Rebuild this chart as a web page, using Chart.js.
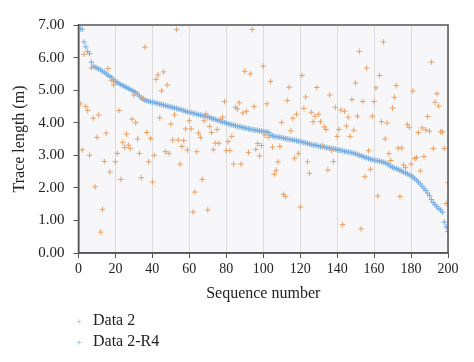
<!DOCTYPE html>
<html>
<head>
<meta charset="utf-8">
<script src="https://cdn.jsdelivr.net/npm/chart.js@4"></script>
<style>
  body { margin: 0; background: #fff; }
  #wrap { position: relative; width: 474px; height: 362px; }
  #legend { position: absolute; left: 69px; top: 309px; font-family: 'Liberation Serif', 'DejaVu Serif', serif; font-size: 16px; color: #222; }
  #legend div { height: 21px; line-height: 21px; white-space: nowrap; }
  #legend span.mk { display: inline-block; width: 20px; text-align: center; font-size: 11px; }
</style>
</head>
<body>
<div id="wrap">
  <canvas id="chart" width="474" height="362"></canvas>
  <div id="legend"></div>
</div>
<script>
// Sequence number 1..200
const sequence = [];
for (let i = 1; i <= 200; i++) sequence.push(i);

// Data 2 (raw trace lengths, m)
const data2 = [
  4.58, 3.17, 6.10, 4.50, 4.37, 3.00, 5.68, 4.14, 2.03, 3.55,
  4.24, 0.64, 1.34, 2.81, 3.68, 5.66, 2.49, 5.30, 5.16, 2.80,
  3.06, 4.37, 2.26, 3.40, 3.24, 3.65, 3.31, 3.21, 4.11, 4.85,
  4.00, 3.50, 3.06, 2.31, 4.75, 6.32, 3.70, 2.80, 3.52, 2.18,
  3.00, 5.33, 5.47, 4.15, 4.98, 5.56, 3.11, 5.16, 3.06, 3.96,
  3.47, 4.24, 6.86, 3.47, 2.73, 3.27, 3.45, 3.81, 3.16, 4.06,
  3.81, 1.26, 1.87, 3.11, 3.68, 3.55, 2.26, 4.06, 4.27, 1.32,
  3.88, 3.70, 3.17, 3.37, 3.79, 3.37, 4.10, 4.17, 4.65, 3.14,
  3.42, 3.14, 3.58, 2.73, 4.47, 4.42, 4.61, 2.73, 4.30, 5.58,
  4.35, 3.09, 5.50, 6.86, 4.50, 3.18, 3.36, 2.98, 3.30, 5.74,
  3.62, 4.58, 3.55, 5.27, 3.25, 2.42, 2.54, 2.80, 3.27, 4.01,
  1.80, 1.73, 4.68, 5.09, 3.75, 4.14, 2.91, 4.26, 3.05, 1.41,
  5.45, 4.44, 4.79, 2.80, 2.45, 4.32, 4.03, 4.20, 5.08, 4.26,
  4.03, 3.30, 3.87, 3.79, 2.55, 4.85, 3.15, 2.81, 4.47, 3.58,
  3.79, 4.39, 0.87, 4.35, 3.90, 4.17, 3.58, 4.71, 3.77, 5.22,
  4.20, 6.19, 0.74, 4.65, 2.34, 5.68, 3.14, 2.57, 4.20, 4.65,
  5.07, 1.75, 5.45, 4.03, 6.48, 3.50, 3.99, 3.05, 2.84, 4.45,
  4.78, 5.14, 3.22, 1.73, 3.22, 2.70, 2.62, 3.95, 3.86, 2.73,
  4.97, 2.90, 2.93, 3.70, 2.52, 3.84, 2.96, 3.78, 4.19, 3.74,
  5.86, 3.21, 4.63, 4.89, 4.51, 3.72, 3.72, 3.21, 1.52, 2.16
];

// Data 2-R4 (sorted, m)
const data2R4 = [
  6.88, 6.87, 6.48, 6.33, 6.19, 6.12, 5.86, 5.74, 5.70, 5.68,
  5.65, 5.62, 5.58, 5.55, 5.50, 5.46, 5.42, 5.38, 5.32, 5.27,
  5.24, 5.20, 5.17, 5.14, 5.11, 5.08, 5.05, 5.02, 4.99, 4.96,
  4.93, 4.88, 4.82, 4.76, 4.72, 4.69, 4.67, 4.66, 4.64, 4.63,
  4.62, 4.60, 4.59, 4.57, 4.56, 4.54, 4.53, 4.51, 4.50, 4.48,
  4.47, 4.45, 4.44, 4.42, 4.41, 4.39, 4.37, 4.35, 4.33, 4.32,
  4.31, 4.29, 4.28, 4.26, 4.25, 4.23, 4.22, 4.21, 4.19, 4.18,
  4.16, 4.14, 4.12, 4.10, 4.08, 4.06, 4.04, 4.02, 4.01, 3.99,
  3.97, 3.95, 3.94, 3.92, 3.91, 3.89, 3.88, 3.87, 3.85, 3.84,
  3.83, 3.81, 3.80, 3.79, 3.78, 3.77, 3.76, 3.75, 3.74, 3.73,
  3.72, 3.71, 3.70, 3.62, 3.60, 3.58, 3.57, 3.56, 3.55, 3.54,
  3.53, 3.51, 3.50, 3.49, 3.48, 3.47, 3.46, 3.45, 3.43, 3.42,
  3.41, 3.39, 3.38, 3.36, 3.35, 3.33, 3.32, 3.31, 3.30, 3.28,
  3.27, 3.26, 3.25, 3.24, 3.23, 3.22, 3.21, 3.20, 3.19, 3.17,
  3.16, 3.15, 3.14, 3.12, 3.11, 3.10, 3.09, 3.08, 3.06, 3.04,
  3.02, 3.00, 2.98, 2.96, 2.94, 2.92, 2.90, 2.88, 2.87, 2.85,
  2.84, 2.83, 2.82, 2.80, 2.79, 2.77, 2.74, 2.71, 2.66, 2.63,
  2.61, 2.59, 2.57, 2.54, 2.51, 2.48, 2.46, 2.43, 2.40, 2.37,
  2.33, 2.28, 2.23, 2.18, 2.12, 2.05, 1.98, 1.92, 1.84, 1.76,
  1.64, 1.55, 1.48, 1.42, 1.36, 1.32, 1.25, 0.95, 0.80, 0.66
];

const seriesNames = ['Data 2', 'Data 2-R4'];
const seriesColors = ['rgb(236, 160, 100)', 'rgb(118, 172, 224)'];

Chart.defaults.font.family = "'Liberation Serif', 'DejaVu Serif', serif";
Chart.defaults.color = '#222';

// plot background + box around chart area
const frame = {
  id: 'frame',
  beforeDraw(chart) {
    const { ctx, chartArea: a } = chart;
    ctx.save();
    ctx.fillStyle = '#f7f7f9';
    ctx.fillRect(a.left, a.top, a.right - a.left, a.bottom - a.top);
    ctx.restore();
  },
  afterDraw(chart) {
    const { ctx, chartArea: a } = chart;
    ctx.save();
    ctx.strokeStyle = '#555';
    ctx.lineWidth = 1.5;
    ctx.strokeRect(a.left, a.top, a.right - a.left, a.bottom - a.top);
    ctx.restore();
  }
};

const chart = new Chart('chart', {
  type: 'scatter',
  data: {
    datasets: [
      {
        label: seriesNames[0],
        data: sequence.map((x, i) => ({ x: x, y: data2[i] })),
        pointStyle: 'cross',
        pointRadius: 2.8,
        borderWidth: 1,
        borderColor: seriesColors[0],
        backgroundColor: seriesColors[0]
      },
      {
        label: seriesNames[1],
        data: sequence.map((x, i) => ({ x: x, y: data2R4[i] })),
        pointStyle: 'cross',
        pointRadius: 2.8,
        borderWidth: 1,
        borderColor: seriesColors[1],
        backgroundColor: seriesColors[1]
      }
    ]
  },
  options: {
    responsive: false,
    animation: false,
    layout: { padding: { top: 25, right: 26, bottom: 59, left: 10 } },
    plugins: {
      legend: { display: false },
      tooltip: { enabled: false }
    },
    scales: {
      x: {
        type: 'linear',
        min: 0,
        max: 200,
        ticks: { stepSize: 20, padding: 3, font: { size: 14 } },
        grid: { color: '#dcdcdc', tickColor: '#555', tickLength: 5 },
        border: { color: '#555', width: 1.5 },
        title: { display: true, text: 'Sequence number', font: { size: 16 }, padding: { top: 3, bottom: 0 } }
      },
      y: {
        min: 0,
        max: 7,
        ticks: { stepSize: 1, padding: 9, font: { size: 15 }, callback: v => v.toFixed(2) },
        grid: { drawOnChartArea: false, tickColor: '#555', tickLength: 5 },
        border: { color: '#555', width: 1.5 },
        title: { display: true, text: 'Trace length (m)', font: { size: 16 }, padding: { top: 0, bottom: 0 } }
      }
    }
  },
  plugins: [frame]
});

// legend under the chart
const legend = document.getElementById('legend');
seriesNames.forEach((name, i) => {
  const row = document.createElement('div');
  row.innerHTML = '<span class="mk" style="color:' + seriesColors[i] + '">+</span> ' + name;
  legend.appendChild(row);
});
</script>
</body>
</html>
